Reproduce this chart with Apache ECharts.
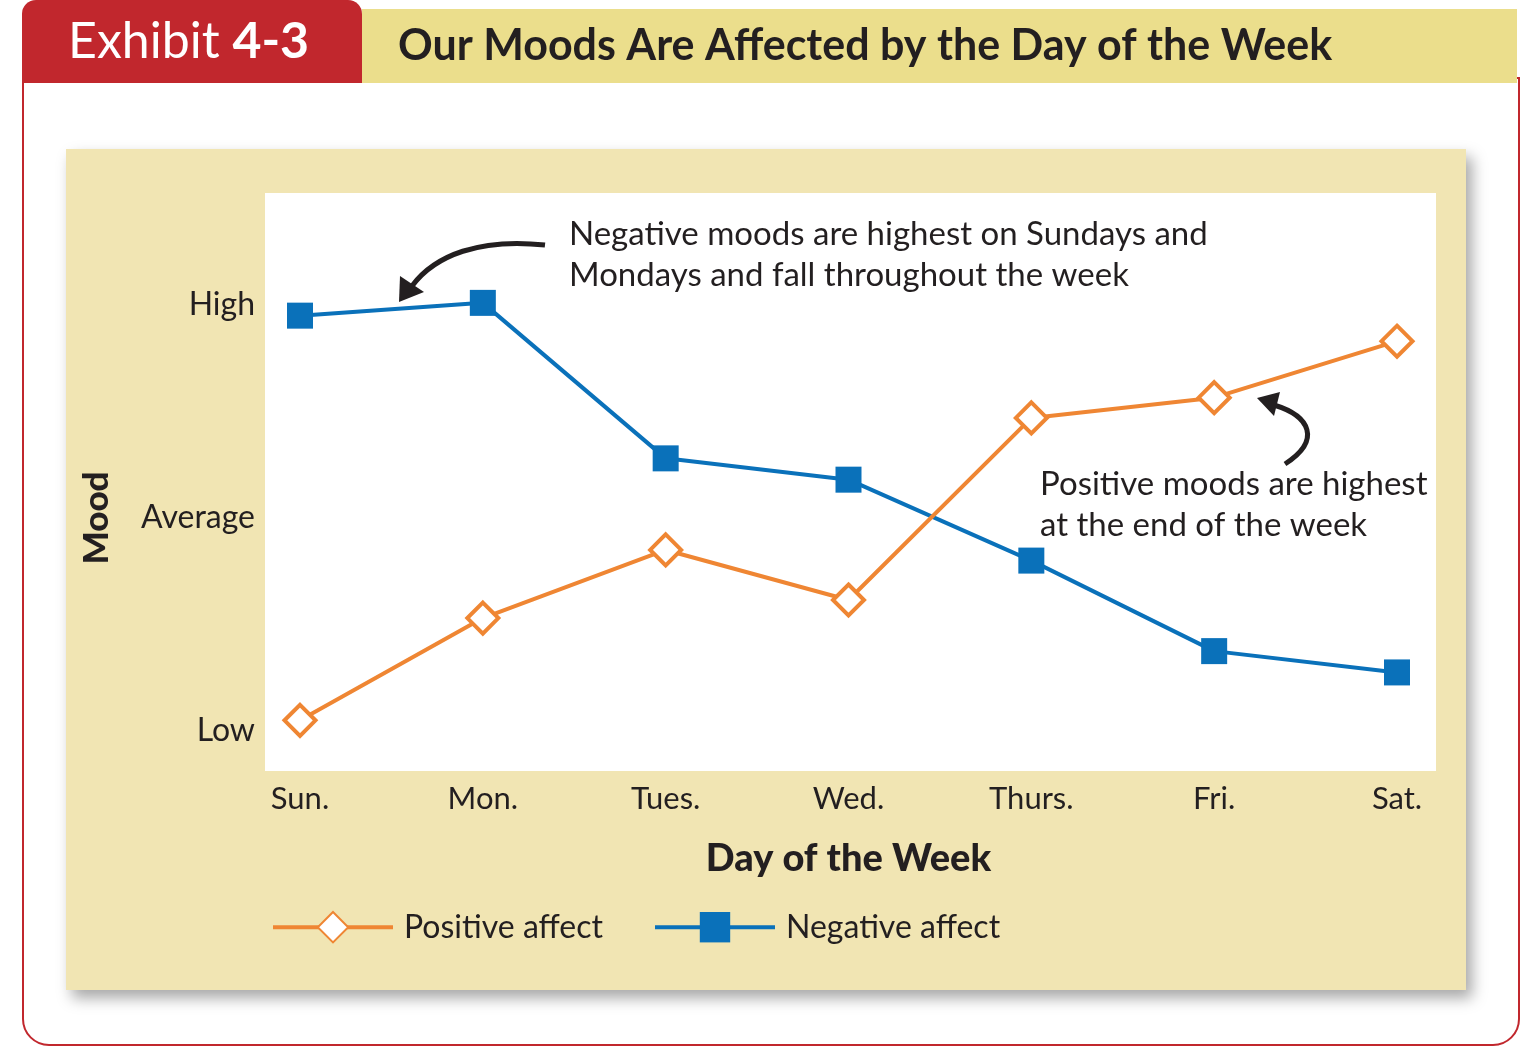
<!DOCTYPE html>
<html>
<head>
<meta charset="utf-8">
<script src="https://cdn.jsdelivr.net/npm/echarts@6/dist/echarts.min.js"></script>
<style>
  html, body { margin: 0; padding: 0; background: #fff; }
  #chart { width: 1536px; height: 1048px; }
</style>
</head>
<body>
<div id="chart"></div>
<script>
// days along the x axis
const days = ['Sun.', 'Mon.', 'Tues.', 'Wed.', 'Thurs.', 'Fri.', 'Sat.'];
// mood scale: 0 = Low, 1 = Average, 2 = High
const moodLabels = ['Low', 'Average', 'High'];
const positiveAffect = [0.05, 0.53, 0.85, 0.615, 1.47, 1.565, 1.83];
const negativeAffect = [1.95, 2.01, 1.28, 1.18, 0.8, 0.375, 0.275];

const FONT = 'Lato, "Open Sans", sans-serif';
const INK = '#231f20';
const ORANGE = '#ef8633';
const BLUE = '#0a71ba';

const chart = echarts.init(document.getElementById('chart'));

const option = {
  backgroundColor: '#ffffff',
  animation: false,
  textStyle: { fontFamily: FONT, color: INK },
  graphic: [
    // outer frame
    {
      type: 'rect', z: -10,
      shape: { x: 23, y: 78, width: 1496, height: 967, r: [0, 0, 26, 26] },
      style: { fill: '#fff', stroke: '#c1272d', lineWidth: 2 }
    },
    // yellow title bar
    {
      type: 'rect', z: -9,
      shape: { x: 362, y: 9, width: 1155, height: 74 },
      style: { fill: '#ebde8c' }
    },
    // red exhibit tab
    {
      type: 'rect', z: -9,
      shape: { x: 22, y: 0, width: 340, height: 83, r: [14, 14, 0, 0] },
      style: { fill: '#c1272d' }
    },
    {
      type: 'text', z: 5, left: 68, top: 17,
      style: {
        text: '{a|Exhibit }{b|4-3}',
        rich: {
          a: { fontFamily: FONT, fontSize: 50, fill: '#fff' },
          b: { fontFamily: FONT, fontSize: 50, fontWeight: 'bold', fill: '#fff' }
        }
      }
    },
    {
      type: 'text', z: 5, left: 398, top: 25,
      style: { text: 'Our Moods Are Affected by the Day of the Week', font: 'bold 43px ' + FONT, fill: INK }
    },
    // beige panel with shadow
    {
      type: 'rect', z: -8,
      shape: { x: 66, y: 149, width: 1400, height: 841 },
      style: {
        fill: '#f1e5b3', shadowBlur: 14, shadowOffsetX: 6, shadowOffsetY: 8,
        shadowColor: 'rgba(0,0,0,0.35)'
      }
    },
    // white plot area
    {
      type: 'rect', z: -7,
      shape: { x: 265, y: 193, width: 1171, height: 578 },
      style: { fill: '#ffffff' }
    },
    // annotation: negative moods
    {
      type: 'text', z: 5, left: 569, top: 214,
      style: {
        text: 'Negative moods are highest on Sundays and\nMondays and fall throughout the week',
        font: '33px ' + FONT, fill: INK, lineHeight: 41
      }
    },
    {
      type: 'bezierCurve', z: 5,
      shape: { x1: 545, y1: 245, cpx1: 480, cpy1: 238, cpx2: 435, cpy2: 255, x2: 412, y2: 286 },
      style: { stroke: INK, lineWidth: 5, fill: null }
    },
    {
      type: 'polygon', z: 5,
      shape: { points: [[399, 302], [400, 276], [424, 292]] },
      style: { fill: INK }
    },
    // annotation: positive moods
    {
      type: 'text', z: 5, left: 1040, top: 464,
      style: {
        text: 'Positive moods are highest\nat the end of the week',
        font: '33px ' + FONT, fill: INK, lineHeight: 41
      }
    },
    {
      type: 'bezierCurve', z: 5,
      shape: { x1: 1285, y1: 464, cpx1: 1322, cpy1: 440, cpx2: 1310, cpy2: 416, x2: 1274, y2: 405 },
      style: { stroke: INK, lineWidth: 5, fill: null }
    },
    {
      type: 'polygon', z: 5,
      shape: { points: [[1257, 398], [1280, 392], [1274, 416]] },
      style: { fill: INK }
    }
  ],
  grid: { left: 300, right: 139, top: 305, bottom: 317 },
  legend: {
    left: 266, top: 906,
    itemWidth: 120, itemHeight: 38, itemGap: 50,
    lineStyle: { width: 4 },
    textStyle: { fontFamily: FONT, fontSize: 32, color: INK, padding: [0, 0, 0, 6] },
    data: ['Positive affect', 'Negative affect']
  },
  xAxis: {
    type: 'category',
    data: days,
    boundaryGap: false,
    axisLine: { show: false },
    axisTick: { show: false },
    splitLine: { show: false },
    axisLabel: { fontFamily: FONT, fontSize: 31, color: INK, margin: 52 },
    name: 'Day of the Week',
    nameLocation: 'middle',
    nameGap: 109,
    nameTextStyle: { fontFamily: FONT, fontSize: 38, fontWeight: 900, color: INK }
  },
  yAxis: {
    type: 'value',
    min: 0, max: 2, interval: 1,
    axisLine: { show: false },
    axisTick: { show: false },
    splitLine: { show: false },
    axisLabel: {
      fontFamily: FONT, fontSize: 32, color: INK, margin: 45,
      formatter: v => moodLabels[v]
    },
    name: 'Mood',
    nameLocation: 'middle',
    nameGap: 186,
    nameRotate: 90,
    nameTextStyle: { fontFamily: FONT, fontSize: 35, fontWeight: 900, color: INK }
  },
  series: [
    {
      name: 'Positive affect',
      type: 'line',
      data: positiveAffect,
      clip: false,
      symbol: 'diamond',
      symbolSize: [31, 31],
      lineStyle: { color: ORANGE, width: 4 },
      itemStyle: { color: '#ffffff', borderColor: ORANGE, borderWidth: 4 },
      z: 3
    },
    {
      name: 'Negative affect',
      type: 'line',
      data: negativeAffect,
      clip: false,
      symbol: 'rect',
      symbolSize: 26,
      lineStyle: { color: BLUE, width: 4 },
      itemStyle: { color: BLUE, borderWidth: 0 },
      z: 2
    }
  ]
};

chart.setOption(option);
</script>
</body>
</html>
